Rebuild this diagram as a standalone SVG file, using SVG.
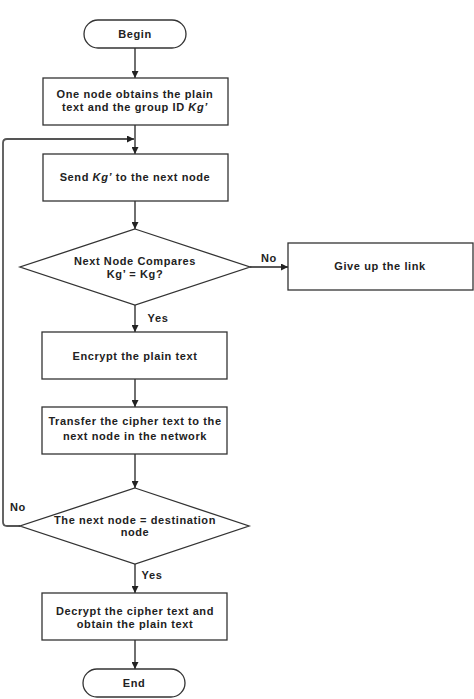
<svg xmlns="http://www.w3.org/2000/svg" width="474" height="699" viewBox="0 0 474 699">
<style>
.n{fill:#fff;stroke:#333;stroke-width:1.3}
.t{font-family:"Liberation Sans",Arial,sans-serif;font-size:11px;font-weight:bold;fill:#222;text-anchor:middle;letter-spacing:0.6px}
.c{fill:none;stroke:#222;stroke-width:1.3}
</style>
<defs>
<marker id="a" viewBox="0 0 10 10" refX="10" refY="5" markerWidth="7" markerHeight="7" orient="auto" markerUnits="userSpaceOnUse"><path d="M0,0L10,5L0,10z" fill="#222"/></marker>
</defs>
<rect width="474" height="699" fill="#fff"/>
<g id="connectors">
<line class="c" x1="135" y1="48" x2="135" y2="78" marker-end="url(#a)"/>
<line class="c" x1="135" y1="125" x2="135" y2="154" marker-end="url(#a)"/>
<line class="c" x1="135" y1="201" x2="135" y2="229" marker-end="url(#a)"/>
<line class="c" x1="250" y1="267" x2="288" y2="267" marker-end="url(#a)"/>
<line class="c" x1="135" y1="305" x2="135" y2="332" marker-end="url(#a)"/>
<line class="c" x1="135" y1="379" x2="135" y2="407" marker-end="url(#a)"/>
<line class="c" x1="135" y1="454" x2="135" y2="488" marker-end="url(#a)"/>
<line class="c" x1="135" y1="564" x2="135" y2="593" marker-end="url(#a)"/>
<line class="c" x1="135" y1="640" x2="135" y2="669" marker-end="url(#a)"/>
<path d="M20,526H7Q3,526 3,522V143Q3,139 7,139H134" fill="none" stroke="#555" stroke-width="1.8" marker-end="url(#a)"/>
<text class="t" x="269" y="262">No</text>
<text class="t" x="158" y="322">Yes</text>
<text class="t" x="18" y="511">No</text>
<text class="t" x="152" y="579">Yes</text>
</g>
<g id="begin"><rect class="n" x="84" y="20" width="102" height="28" rx="14"/><text class="t" x="135" y="38">Begin</text></g>
<g id="obtain"><rect class="n" x="43" y="78" width="185" height="47"/><text class="t" x="135" y="98">One node obtains the plain</text><text class="t" x="135" y="111">text and the group ID <tspan font-style="italic">Kg’</tspan></text></g>
<g id="send"><rect class="n" x="43" y="154" width="185" height="47"/><text class="t" x="135" y="181">Send <tspan font-style="italic">Kg’</tspan> to the next node</text></g>
<g id="compare"><polygon class="n" points="135,229 250,267 135,305 20,267"/><text class="t" x="135" y="265">Next Node Compares</text><text class="t" x="135" y="278">Kg’ = Kg?</text></g>
<g id="giveup"><rect class="n" x="288" y="243" width="185" height="47"/><text class="t" x="380" y="270">Give up the link</text></g>
<g id="encrypt"><rect class="n" x="42" y="332" width="185" height="47"/><text class="t" x="135" y="360">Encrypt the plain text</text></g>
<g id="transfer"><rect class="n" x="42" y="407" width="185" height="47"/><text class="t" x="135" y="425">Transfer the cipher text to the</text><text class="t" x="135" y="440">next node in the network</text></g>
<g id="dest"><polygon class="n" points="135,488 249,526 135,564 20,526"/><text class="t" x="135" y="524">The next node = destination</text><text class="t" x="135" y="536">node</text></g>
<g id="decrypt"><rect class="n" x="42" y="593" width="185" height="47"/><text class="t" x="135" y="615">Decrypt the cipher text and</text><text class="t" x="135" y="628">obtain the plain text</text></g>
<g id="end"><rect class="n" x="83" y="669" width="102" height="28" rx="14"/><text class="t" x="134" y="687">End</text></g>
</svg>
